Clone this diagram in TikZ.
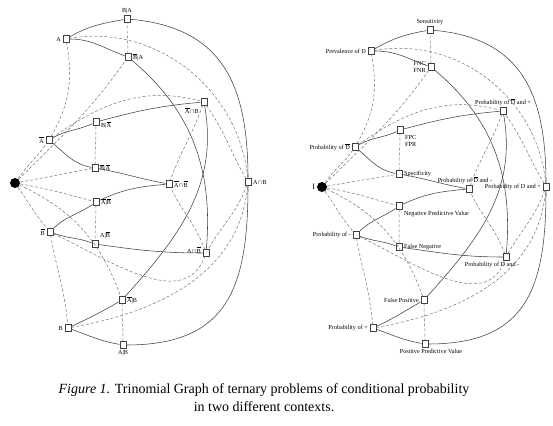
\documentclass[tikz,border=0pt]{standalone}
\usepackage{fontspec}
\setmainfont{Liberation Serif}
\newcommand{\no}[1]{$\overline{\mbox{#1}}$}
\tikzset{
  box/.style={draw=black!75,minimum size=6.5pt,inner sep=0pt,line width=0.5pt},
  lbl/.style={font=\fontsize{6.2}{6.8}\selectfont,inner sep=1.5pt},
  sure/.style={circle,fill=black,minimum size=10pt,inner sep=0pt},
  times/.style={draw=black!75,line width=0.55pt},
  plus/.style={draw=black!55,line width=0.5pt,dash pattern=on 3pt off 2pt},
}

\begin{document}
\begin{tikzpicture}[x=1pt,y=1pt,every label/.style=lbl]
\useasboundingbox (0,0) rectangle (553,425);

% events A, B (left graph)
\node[sure] (LO) at (15,242) {};
\node[box,label=left:A] (LA) at (66,386) {};
\node[box,label=above:B|A] (LBgA) at (127,406) {};
\node[box,label=right:\no{B}|A] (LnBgA) at (128,368) {};
\node[box,label=left:\no{A}] (LnA) at (49,285) {};
\node[box,label={[yshift=-3pt]right:B|\no{A}}] (LBgnA) at (96,303) {};
\node[box,label=below left:\no{A}$\cap$B] (LnAB) at (204,323) {};
\node[box,label=right:\no{B}|\no{A}] (LnBgnA) at (95,257) {};
\node[box,label=right:\no{A}$\cap$\no{B}] (LnAnB) at (169,241) {};
\node[box,label=right:A$\cap$B] (LAB) at (248,243) {};
\node[box,label=right:\no{A}|\no{B}] (LnAgnB) at (96,223) {};
\node[box,label=left:\no{B}] (LnB) at (50,193) {};
\node[box,label=above right:A|\no{B}] (LAgnB) at (95,181) {};
\node[box,label={[yshift=3pt]left:A$\cap$\no{B}}] (LAnB) at (206,172) {};
\node[box,label=right:\no{A}|B] (LnAgB) at (122,125) {};
\node[box,label=left:B] (LB) at (68,97) {};
\node[box,label=below:A|B] (LAgB) at (123,80) {};

% disease D, test + (right graph)
\node[sure,label={[font=\fontsize{8}{9}\selectfont]left:I}] (RO) at (322,238) {};
\node[box,label=left:Prevalence of D] (RA) at (371,374) {};
\node[box,label=above:Sensitivity] (RBgA) at (430,395) {};
\node[box,label={[align=center]left:FNC\\FNR}] (RnBgA) at (431,358) {};
\node[box,label=left:Probability of \no{D}] (RnA) at (355,278) {};
\node[box,label={[align=left]below right:FPC\\FPR}] (RBgnA) at (400,295) {};
\node[box,label=above:Probability of \no{D} and +] (RnAB) at (503,314) {};
\node[box,label=right:Specificity] (RnBgnA) at (399,251) {};
\node[box,label={[xshift=-4pt]above:Probability of \no{D} and -}] (RnAnB) at (469,236) {};
\node[box,label=left:Probability of D and +] (RAB) at (546,238) {};
\node[box,label=below right:Negative Predictive Value] (RnAgnB) at (399,219) {};
\node[box,label=left:Probability of -] (RnB) at (356,190) {};
\node[box,label=right:False Negative] (RAgnB) at (399,178) {};
\node[box,label={[xshift=-14pt]below:Probability of D and -}] (RAnB) at (506,168) {};
\node[box,label=left:False Positive] (RnAgB) at (424,125) {};
\node[box,label=left:Probability of +] (RB) at (373,97) {};
\node[box,label={[xshift=6pt]below:Positive Predictive Value}] (RAgB) at (425,81) {};

\foreach \g in {L,R} {
  % products
  \draw[times] (\g A) to[out=30,in=190] (\g BgA) to[out=-5,in=90,looseness=1.2] (\g AB);
  \draw[times] (\g A) to[out=0,in=160] (\g nBgA) to[out=-40,in=85] (\g AnB);
  \draw[times] (\g nA) to[out=30,in=205] (\g BgnA) to[out=15,in=185] (\g nAB);
  \draw[times] (\g nA) to[out=-40,in=170] (\g nBgnA) to[out=-10,in=170] (\g nAnB);
  \draw[times] (\g nB) to[out=45,in=215] (\g nAgnB) to[out=25,in=185] (\g nAnB);
  \draw[times] (\g nB) to[out=-20,in=160] (\g AgnB) to[out=-8,in=180] (\g AnB);
  \draw[times] (\g B) to[out=25,in=210] (\g nAgB) to[out=48,in=-80] (\g nAB);
  \draw[times] (\g B) to[out=-20,in=170] (\g AgB) to[out=0,in=-90,looseness=1.3] (\g AB);
  % sums
  \draw[plus] (\g O) to[out=55,in=235] (\g nA) to[out=60,in=-80] (\g A);
  \draw[plus] (\g O) to[out=-55,in=130] (\g nB) to[out=-80,in=95] (\g B);
  \draw[plus] (\g O) to[out=45,in=235] (\g nBgA) to[out=90,in=-90] (\g BgA);
  \draw[plus] (\g O) to[out=10,in=190] (\g nBgnA) to[out=90,in=-90] (\g BgnA);
  \draw[plus] (\g O) to[out=-10,in=165] (\g nAgnB) to[out=-90,in=90] (\g AgnB);
  \draw[plus] (\g O) to[out=-25,in=110] (\g nAgB) to[out=-90,in=90] (\g AgB);
  \draw[plus] (\g A) to[out=10,in=95] (\g AB) to[out=-110,in=60] (\g AnB);
  \draw[plus] (\g nA) to[out=35,in=165] (\g nAB) to[out=-110,in=70] (\g nAnB);
  \draw[plus] (\g B) to[out=10,in=-95] (\g AB) to[out=120,in=-55] (\g nAB);
  \draw[plus] (\g nB) to[out=-25,in=-110] (\g AnB) to[out=110,in=-65] (\g nAnB);
}

\node[font=\fontsize{14}{18}\selectfont,align=center] (cap) at (264,27)
  {\textit{Figure 1.} Trinomial Graph of ternary problems of conditional probability\\in two different contexts.};
\end{tikzpicture}
\end{document}
